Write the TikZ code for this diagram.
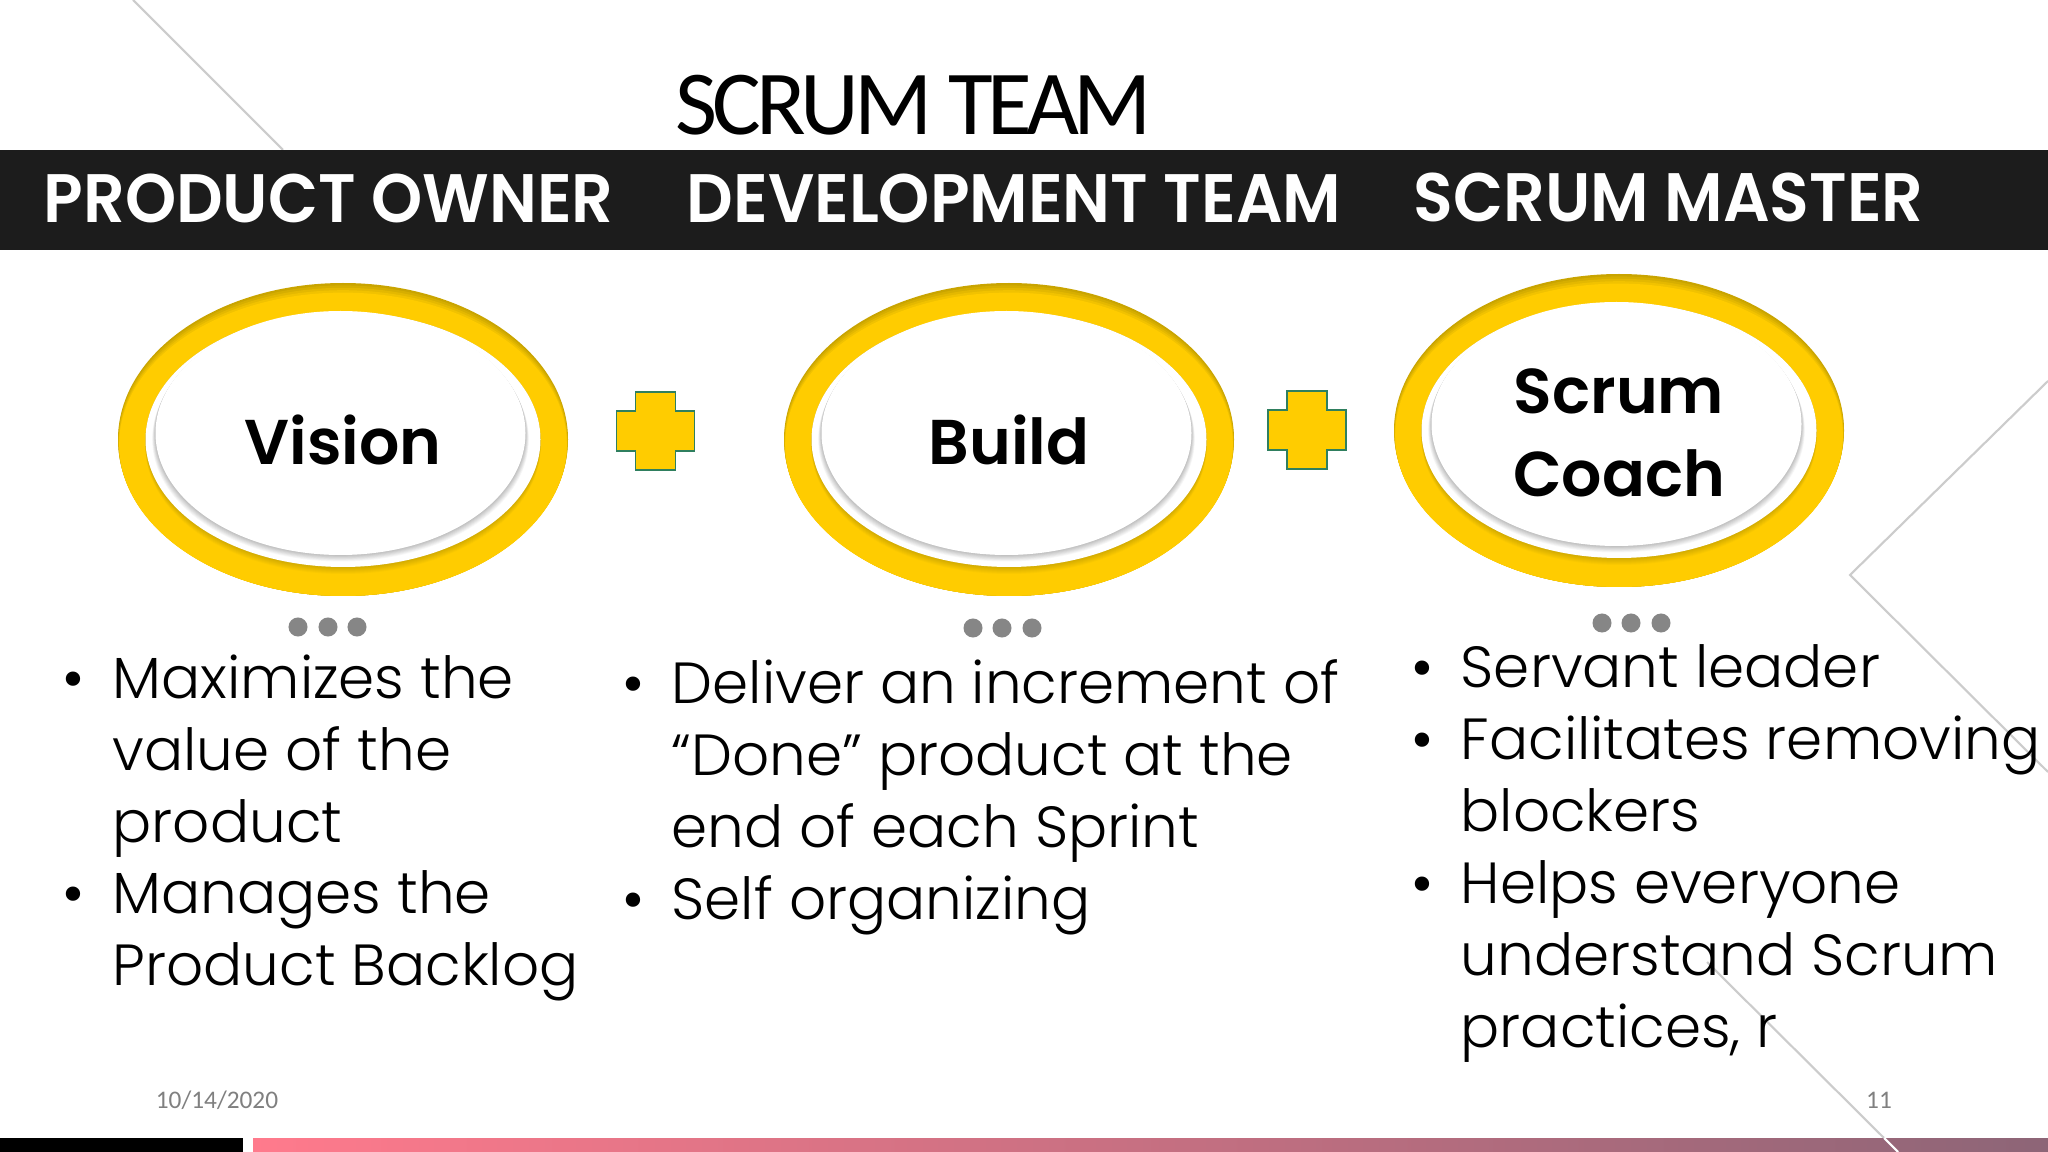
\documentclass[tikz,border=0pt]{standalone}
\usepackage{fontspec}
\setmainfont{Poppins}
\newfontfamily\slidefont{Carlito}
\newfontfamily\titlefont[LetterSpace=-5.6]{Carlito}
\newfontfamily\headfont[FakeStretch=0.95]{Poppins SemiBold}
\newfontfamily\ringfont{Poppins SemiBold}
\newfontfamily\bodyfont{Poppins Light}
\usetikzlibrary{shapes.geometric}
\definecolor{gold}{HTML}{FFCC00}
\definecolor{darkgold}{HTML}{C9A400}
\definecolor{barblack}{HTML}{1C1C1C}
\definecolor{barpink}{HTML}{FF7A8C}
\definecolor{barplum}{HTML}{8D6577}
\definecolor{plusgreen}{HTML}{2F7F5F}
\tikzset{every picture/.style={x=0.01cm,y=-0.01cm},
         headtext/.style={font=\headfont\fontsize{19.5pt}{26pt}\selectfont,text=white,anchor=base west,inner sep=0pt},
         itemtext/.style={font=\bodyfont\fontsize{16.5pt}{20.4pt}\selectfont,align=left,anchor=base west,inner sep=0pt},
         itembullet/.style={font=\fontsize{16.5pt}{20.4pt}\selectfont,anchor=base,inner sep=0pt},
         ringtext/.style={font=\ringfont\fontsize{18pt}{23.4pt}\selectfont,align=center,inner sep=0pt},
         dotmark/.style={circle,fill=gray!95,minimum size=0.19cm,inner sep=0pt},
         footertext/.style={font=\slidefont\fontsize{7.2pt}{8pt}\selectfont,text=gray,inner sep=0pt},
         decoline/.style={draw=black!20,line width=0.6pt},
         plusmark/.pic={\draw[fill=gold,draw=plusgreen,line width=0.5pt]
            (-20,-39)--(20,-39)--(20,-20)--(39,-20)--(39,20)--(20,20)--(20,39)
            --(-20,39)--(-20,20)--(-39,20)--(-39,-20)--(-20,-20)--cycle;},
        }

\begin{document}
\begin{tikzpicture}
        \useasboundingbox (0,0) rectangle (2048,1152);
        \fill[white] (0,0) rectangle (2048,1152);

        \coordinate (d1) at (133,0);
        \coordinate (d2) at (283,150);
        \coordinate (d3) at (2048,381);
        \coordinate (d4) at (1850,575);
        \coordinate (d5) at (2048,772);
        \coordinate (d6) at (1707,962);
        \coordinate (d7) at (1884,1138);
        \coordinate (d8) at (1898,1152);
        \draw[decoline](d1)--(d2);
        \draw[decoline](d3)--(d4)--(d5);
        \draw[decoline](d6)--(d7);

        \fill[barblack](0,150)rectangle(2048,250);
        \node[font=\titlefont\fontsize{26pt}{30pt}\selectfont,inner sep=0pt](title)at(914,105){SCRUM TEAM};
        \node[headtext](owner)at(43,223){PRODUCT OWNER};
        \node[headtext](devteam)at(686,223){DEVELOPMENT TEAM};
        \node[headtext](master)at(1413,222){SCRUM MASTER};

        % three rings, soft edges come from stacked ellipses
        \foreach \n/\x/\y/\d/\t in {vision/343/439.5/0/Vision, build/1009/439.5/0/Build, coach/1619/430.5/2.5/{Scrum\\Coach}}{
            \foreach \k in {0,...,4}{
                \pgfmathsetmacro\mix{\k*25}
                \fill[gold!\mix!darkgold](\x,\y+\k*1.2)ellipse({225-\k*0.3} and {156.5-\k*1.2});
            }
            \foreach \k in {8,7,...,0}{
                \pgfmathsetmacro\mix{100-(8-\k)*11}
                \fill[gold!\mix!darkgold](\x,\y+\k)ellipse(197.5 and 127.5);
            }
            \fill[white](\x,\y)ellipse(197.5 and 127.5);
            \foreach \k in {8,7,...,1}{
                \pgfmathsetmacro\mix{27-\k*3}
                \fill[black!\mix](\x-2.5,\y-6.5+\k*0.8)ellipse({185+\k*0.4} and 122);
            }
            \fill[white](\x-2.5,\y-6.5)ellipse(185 and 122);
            \node[ringtext](\n)at(\x,\y+\d){\t};
        }

        \pic at(655.5,431){plusmark};
        \pic at(1307,430){plusmark};

        \foreach \x/\y [count=\i] in {298/627,328/627,357/627,973/628,1002/628,1032/628,1602/623,1631/623,1661/623}{
            \node[dotmark](dot\i)at(\x,\y){};
        }

        % left column
        \node[itembullet](b1)at(73,698){•};
        \node[itemtext](po1)at(112,842){Maximizes the\\value of the\\product};
        \node[itembullet](b2)at(73,913){•};
        \node[itemtext](po2)at(112,985){Manages the\\Product Backlog};
        % middle column
        \node[itembullet](b3)at(633,703){•};
        \node[itemtext](dt1)at(671,847){Deliver an increment of\\“Done” product at the\\end of each Sprint};
        \node[itembullet](b4)at(633,919){•};
        \node[itemtext](dt2)at(671,919){Self organizing};
        % right column
        \node[itembullet](b5)at(1422,687){•};
        \node[itemtext](sm1)at(1460,687){Servant leader};
        \node[itembullet](b6)at(1422,759){•};
        \node[itemtext](sm2)at(1460,831){Facilitates removing\\blockers};
        \node[itembullet](b7)at(1422,903){•};
        \node[itemtext](sm3)at(1460,1047){Helps everyone\\understand Scrum\\practices, r};

        \node[footertext](date)at(217,1100){10/14/2020};
        \node[footertext](page)at(1879,1100){11};

        \fill[black](0,1138)rectangle(243,1152);
        \shade[left color=barpink,right color=barplum](253,1138)rectangle(2048,1152);
        \draw[decoline,draw=white](d7)--(d8);
    \end{tikzpicture}
\end{document}
